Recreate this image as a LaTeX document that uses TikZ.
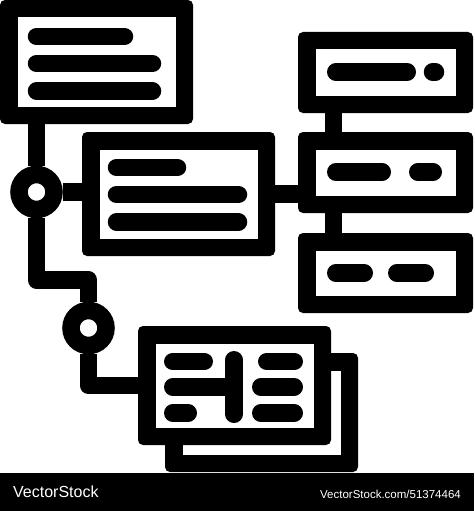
\documentclass[tikz,border=0pt]{standalone}
\usepackage{fontspec}
\setmainfont{Liberation Sans}
\usetikzlibrary{backgrounds}
\tikzset{
  box/.style={fill=black, rounded corners=5pt, inner sep=0pt, outer sep=0pt,
    path picture={\fill[white, sharp corners]
      ([shift={(17.5pt,-17.5pt)}]path picture bounding box.north west) rectangle
      ([shift={(-17.5pt,17.5pt)}]path picture bounding box.south east);}},
  hub/.style={circle, draw=black, line width=17.5pt, fill=white, minimum size=35pt, inner sep=0pt},
  link/.style={draw=black, line width=17.5pt, line join=round},
  bar/.style={draw=black, line width=17.5pt, line cap=round},
  mark1/.style={text=white, inner sep=0pt}
}
\begin{document}
\begin{tikzpicture}[x=1pt, y=-1pt]
\useasboundingbox (0,0) rectangle (474,511);
% boxes
\node[box, minimum width=193pt, minimum height=124pt] (b1) at (96.5,62) {};
\node[box, minimum width=193pt, minimum height=124pt] (b2) at (178.5,194) {};
\node[box, minimum width=175pt, minimum height=81pt] (r1) at (385.5,72.5) {};
\node[box, minimum width=175pt, minimum height=81pt] (r2) at (385.5,172.5) {};
\node[box, minimum width=175pt, minimum height=80pt] (r3) at (385.5,273) {};
\node[box, minimum width=193pt, minimum height=119pt] (b5) at (261.5,412.5) {};
\node[box, minimum width=193pt, minimum height=119pt] (b4) at (234.5,385.5) {};
% hubs
\node[hub] (c1) at (36.5,192) {};
\node[hub] (c2) at (88.5,328) {};
\coordinate (k1) at (36.5,280);
\coordinate (k2) at (88.5,280);
% connectors
\begin{pgfonlayer}{background}
\path[link] (c1 |- b1.south) -- (c1);
\path[link] (c1) -- (c1 -| b2.west);
\path[link] (c1) -- (k1) -- (k2) -- (c2);
\path[link] (c2) -- (c2 |- b4.west) -- (b4.west);
\path[link] (b2.east) -- (b2.east -| r2.west);
\path[link] ([xshift=35.5pt]r1.south west) -- ([xshift=35.5pt]r2.north west);
\path[link] ([xshift=35.5pt]r2.south west) -- ([xshift=35.5pt]r3.north west);
\end{pgfonlayer}
% bars in box 1
\path[bar] (36.5,36.5) -- (124.5,36.5);
\path[bar] (36.5,63.5) -- (152.5,63.5);
\path[bar] (36.5,91) -- (152.5,91);
% bars in box 2
\path[bar] (116.5,167.5) -- (177.5,167.5);
\path[bar] (116.5,194.5) -- (238.5,194.5);
\path[bar] (116.5,222) -- (238.5,222);
% right boxes
\path[bar] (335.75,72) -- (407.25,72);
\path[bar] (432.5,72) -- (435.5,72);
\path[bar] (335.75,172) -- (382.25,172);
\path[bar] (417.75,172) -- (433.25,172);
\path[bar] (335.75,273) -- (364.25,273);
\path[bar] (396.75,273) -- (425.25,273);
% box 4 content
\path[bar] (172.75,361.5) -- (204.25,361.5);
\path[bar] (172.75,387) -- (234,387);
\path[bar] (172.75,413) -- (188.25,413);
\path[bar] (234,359.75) -- (234,414.25);
\path[bar] (266.75,361.5) -- (294.25,361.5);
\path[bar] (260.75,387) -- (294.25,387);
\path[bar] (260.75,413) -- (294.25,413);
% watermark band
\fill[black] (0,473) rectangle (474,511);
\node[mark1, anchor=base west, font=\fontsize{16}{18}\selectfont] (w1) at (13,497) {VectorStock};
\node[mark1, anchor=base east, font=\fontsize{11.5}{13}\selectfont] (w2) at (461,498) {VectorStock.com/51374464};
\end{tikzpicture}
\end{document}
